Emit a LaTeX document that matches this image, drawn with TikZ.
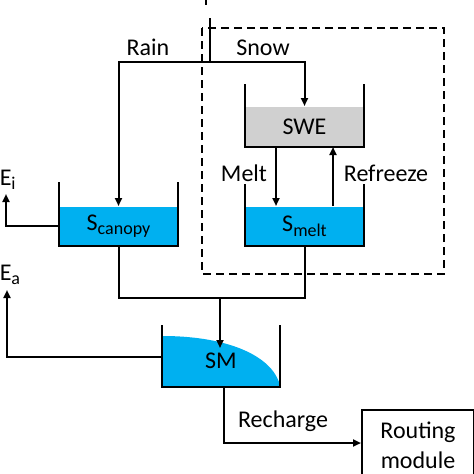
\documentclass[tikz,border=0pt]{standalone}
\usepackage{fontspec}
\setmainfont{Carlito}
\usetikzlibrary{arrows.meta}
\definecolor{waterblue}{RGB}{0,176,240}
\definecolor{snowgrey}{RGB}{208,208,208}
\newcommand{\lowsub}[1]{\raisebox{-0.4ex}{\fontsize{18}{18}\selectfont #1}}

\begin{document}
\begin{tikzpicture}[x=1pt,y=-1pt,line width=2pt,
  flow/.style={-{Triangle[length=8pt,width=7pt]}},
  lbl/.style={inner sep=0.75pt,font=\fontsize{24}{27}\selectfont},
  water/.style={fill=waterblue,minimum width=117pt,inner sep=0pt,font=\fontsize{24}{27}\selectfont},
  frame/.style={dash pattern=on 8pt off 5pt}]
\useasboundingbox (0,0) rectangle (474,474);
\clip (0,0) rectangle (474,474);

%Shape: snow store
\node[water,fill=snowgrey,minimum height=39pt] (swe) at (304.5,126.5) {SWE};
\draw ([yshift=22pt]swe.north west) -- (swe.south west) -- (swe.south east) -- ([yshift=22pt]swe.north east);
%Shape: melt store
\node[water,minimum height=38pt] (smelt) at (304.5,226) {S\lowsub{melt}};
\draw ([yshift=22pt]smelt.north west) -- (smelt.south west) -- (smelt.south east) -- ([yshift=22pt]smelt.north east);
%Shape: canopy store
\node[water,minimum height=38pt] (canopy) at (118.5,226) {S\lowsub{canopy}};
\draw ([yshift=24pt]canopy.north west) -- (canopy.south west) -- (canopy.south east) -- ([yshift=24pt]canopy.north east);
%Shape: soil moisture store
\fill[waterblue] (163,336) .. controls (220,336) and (268,352) .. (279,382) -- (279,386) -- (163,386) -- cycle;
\node[inner sep=0pt,minimum width=116pt,minimum height=50pt,font=\fontsize{24}{27}\selectfont] (sm) at (221,361) {SM};
\draw ([yshift=10pt]sm.north west) -- (sm.south west) -- (sm.south east) -- ([yshift=10pt]sm.north east);
%Shape: routing box
\node[draw,anchor=north west,minimum width=112pt,minimum height=70pt,align=center,font=\fontsize{24}{30}\selectfont] (routing) at (361,409) {Routing\\module};

%Dashed frame
\draw[frame] (202,28) rectangle (444,274);
\draw[frame] (206,0) -- (206,5);

%Precipitation split
\coordinate (precip) at (210,18);
\coordinate (split) at (210,62);
\draw (precip) -- (split);
\draw[flow] (split) -| (canopy.north);
\draw[flow] (split) -| (swe.north);
%Melt and refreeze
\draw[flow] ([xshift=-28.5pt]swe.south) -- ([xshift=-28.5pt]smelt.north);
\draw[flow] ([xshift=28.5pt]smelt.north) -- ([xshift=28.5pt]swe.south);
%Outflows to soil
\coordinate (join) at (220,298);
\draw (canopy.south) |- (smelt.south |- join) -- (smelt.south);
\draw[flow] (join) -- ([yshift=-13pt]join |- sm.north);
%Evaporation
\coordinate (ei) at (6,194);
\coordinate (ea) at (7,290);
\draw[flow] (canopy.west) -| (ei);
\draw[flow] ([yshift=4pt]sm.west) -| (ea);
%Recharge
\draw[flow] ([xshift=3pt]sm.south) |- ([yshift=2pt]routing.west);

% Text Node
\node[lbl] (rain) at (148,47) {Rain};
\node[lbl] (snow) at (263,48) {Snow};
\node[lbl] (melt) at (244,173) {Melt};
\node[lbl] (refreeze) at (386,173) {Refreeze};
\node[lbl] (recharge) at (283,421) {Recharge};
\node[lbl,anchor=west] (ei-text) at (-2,180) {E\lowsub{i}};
\node[lbl,anchor=west] (ea-text) at (-2,275) {E\lowsub{a}};
\end{tikzpicture}
\end{document}
